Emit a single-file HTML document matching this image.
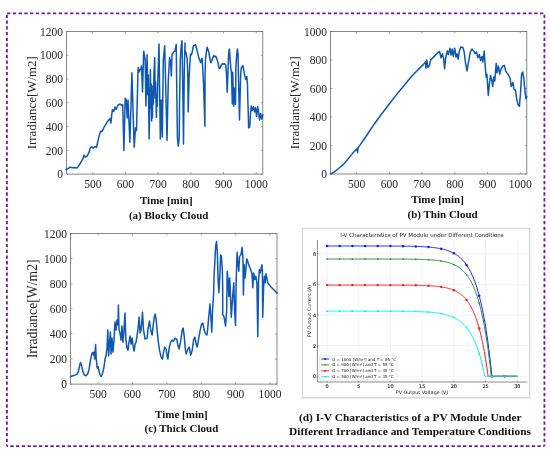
<!DOCTYPE html>
<html lang="en"><head><meta charset="utf-8"><title>Irradiance profiles and I-V characteristics</title>
<style>html,body{margin:0;padding:0;background:#fff}svg{display:block}</style></head>
<body>
<svg width="550" height="454" viewBox="0 0 550 454">
<rect x="0" y="0" width="550" height="454" fill="#ffffff"/>
<g fill="none" stroke="#7216a6" stroke-width="1.8" stroke-dasharray="3.3 2.43">
<path d="M6.9,13.4H544.4" stroke-dashoffset="5.51"/>
<path d="M6.9,446.2H544.4" stroke-dashoffset="2.28"/>
<path d="M6.9,13.4V446.2" stroke-dashoffset="4.41"/>
<path d="M544.4,13.4V446.2" stroke-dashoffset="4.41"/>
</g>
<g font-family="'Liberation Serif', serif" fill="#262626">
<rect x="66.60" y="31.50" width="196.20" height="142.60" fill="#fff" stroke="#6a6a6a" stroke-width="0.8"/>
<text x="92.76" y="188.20" font-size="11.5" text-anchor="middle">500</text>
<text x="125.46" y="188.20" font-size="11.5" text-anchor="middle">600</text>
<text x="158.16" y="188.20" font-size="11.5" text-anchor="middle">700</text>
<text x="190.86" y="188.20" font-size="11.5" text-anchor="middle">800</text>
<text x="223.56" y="188.20" font-size="11.5" text-anchor="middle">900</text>
<text x="256.26" y="188.20" font-size="11.5" text-anchor="middle">1000</text>
<text x="63.00" y="178.30" font-size="11.5" text-anchor="end">0</text>
<text x="63.00" y="154.53" font-size="11.5" text-anchor="end">200</text>
<text x="63.00" y="130.77" font-size="11.5" text-anchor="end">400</text>
<text x="63.00" y="107.00" font-size="11.5" text-anchor="end">600</text>
<text x="63.00" y="83.23" font-size="11.5" text-anchor="end">800</text>
<text x="63.00" y="59.47" font-size="11.5" text-anchor="end">1000</text>
<text x="63.00" y="35.70" font-size="11.5" text-anchor="end">1200</text>
<path d="M92.76,174.10v-2.0M92.76,31.50v2.0M125.46,174.10v-2.0M125.46,31.50v2.0M158.16,174.10v-2.0M158.16,31.50v2.0M190.86,174.10v-2.0M190.86,31.50v2.0M223.56,174.10v-2.0M223.56,31.50v2.0M256.26,174.10v-2.0M256.26,31.50v2.0M66.60,174.10h2.0M262.80,174.10h-2.0M66.60,150.33h2.0M262.80,150.33h-2.0M66.60,126.57h2.0M262.80,126.57h-2.0M66.60,102.80h2.0M262.80,102.80h-2.0M66.60,79.03h2.0M262.80,79.03h-2.0M66.60,55.27h2.0M262.80,55.27h-2.0M66.60,31.50h2.0M262.80,31.50h-2.0" stroke="#6a6a6a" stroke-width="0.6" fill="none"/>
<path d="M66.0,169.5 L68.0,168.7 L70.0,167.1 L72.0,167.7 L74.0,167.5 L77.0,168.1 L79.0,165.5 L81.0,162.1 L83.0,158.7 L84.0,155.1 L85.1,157.1 L87.1,156.1 L89.1,152.1 L90.5,147.5 L91.7,146.7 L93.1,148.1 L95.1,146.7 L96.5,147.5 L98.1,140.1 L99.7,134.1 L100.7,131.1 L102.1,131.5 L104.1,127.1 L107.1,122.1 L110.1,118.6 L110.9,123.1 L111.7,115.0 L112.5,109.4 L113.7,111.4 L115.1,107.0 L116.1,109.4 L118.1,105.0 L120.1,104.0 L121.7,105.4 L122.7,104.6 L123.9,150.5 L125.2,98.2 L126.2,100.0 L127.2,118.0 L128.0,100.0 L129.9,142.2 L131.9,72.7 L133.0,110.0 L134.2,147.2 L135.5,128.0 L136.5,130.6 L138.1,67.5 L139.1,72.0 L140.5,69.0 L141.5,66.0 L142.5,92.0 L143.7,51.2 L145.2,60.0 L145.9,106.0 L147.1,54.8 L147.8,95.0 L148.3,75.0 L149.1,138.9 L149.8,100.0 L150.4,69.4 L150.9,108.0 L151.2,84.0 L151.6,121.0 L152.0,96.0 L152.4,118.0 L152.9,86.0 L153.4,104.0 L153.9,74.0 L154.7,57.8 L155.2,98.0 L155.6,82.0 L156.4,117.4 L156.9,94.0 L157.3,106.0 L157.8,80.0 L159.0,43.9 L160.3,138.9 L161.3,100.0 L162.3,137.0 L163.3,60.0 L164.7,45.7 L165.8,90.0 L167.0,140.6 L168.3,80.0 L169.6,57.7 L170.6,62.0 L171.3,76.0 L172.0,55.0 L173.5,52.0 L175.0,51.0 L176.2,44.6 L176.9,100.0 L177.4,138.0 L178.3,146.0 L179.2,138.0 L179.6,100.0 L180.3,60.0 L181.0,48.0 L182.0,40.7 L182.8,90.0 L183.5,143.9 L184.3,70.0 L185.0,42.9 L185.0,50.4 L186.2,53.3 L187.2,59.1 L187.9,78.0 L188.2,111.9 L189.1,78.0 L189.7,66.4 L190.5,54.0 L191.5,54.7 L192.3,51.8 L193.4,46.0 L194.5,45.3 L195.5,44.5 L196.3,47.5 L197.4,51.8 L198.4,56.2 L199.5,59.8 L200.7,62.7 L201.4,59.1 L202.2,58.4 L202.7,67.8 L203.5,82.4 L204.9,126.2 L205.1,73.6 L205.5,59.1 L206.4,51.8 L207.1,47.2 L208.0,49.6 L209.0,53.3 L210.0,59.1 L210.9,62.7 L211.9,60.5 L212.9,57.6 L213.8,55.5 L214.8,56.9 L215.8,56.2 L217.0,59.1 L218.2,63.5 L219.2,68.5 L220.2,67.8 L221.4,64.9 L222.5,63.5 L223.5,64.2 L224.6,63.7 L225.7,64.9 L226.5,73.6 L227.2,92.3 L227.9,73.6 L228.6,54.7 L229.4,48.9 L230.1,59.1 L230.8,67.8 L231.5,73.6 L232.3,103.9 L232.7,72.2 L233.7,106.1 L234.5,88.2 L235.5,104.6 L235.9,66.4 L236.6,56.2 L237.4,48.9 L238.1,54.7 L238.5,78.0 L239.5,119.9 L240.3,88.2 L240.7,73.6 L241.3,67.8 L242.0,67.1 L242.9,65.6 L243.6,69.3 L244.6,75.1 L245.8,79.5 L246.8,76.5 L247.5,85.3 L247.8,99.5 L248.3,114.1 L248.6,127.9 L249.7,127.2 L250.5,114.1 L251.2,106.1 L252.2,110.5 L253.4,106.8 L254.5,111.9 L255.5,107.5 L256.6,116.3 L257.7,106.8 L258.5,111.2 L259.5,119.9 L260.6,113.4 L261.8,119.2 L262.8,114.8" fill="none" stroke="#0e58b2" stroke-width="1.5" stroke-linejoin="round" stroke-linecap="round"/>
<text transform="translate(35.50,102.80) rotate(-90)" font-size="12.9" text-anchor="middle">Irradiance[W/m2]</text>
<text x="166.30" y="203.80" font-size="11" font-weight="bold" text-anchor="middle" fill="#111">Time [min]</text>
<text x="168.70" y="218.80" font-size="11" font-weight="bold" text-anchor="middle" fill="#111">(a) Blocky Cloud</text>
</g>
<g font-family="'Liberation Serif', serif" fill="#262626">
<rect x="330.50" y="31.50" width="196.30" height="142.50" fill="#fff" stroke="#6a6a6a" stroke-width="0.8"/>
<text x="356.67" y="188.10" font-size="11.5" text-anchor="middle">500</text>
<text x="389.39" y="188.10" font-size="11.5" text-anchor="middle">600</text>
<text x="422.11" y="188.10" font-size="11.5" text-anchor="middle">700</text>
<text x="454.82" y="188.10" font-size="11.5" text-anchor="middle">800</text>
<text x="487.54" y="188.10" font-size="11.5" text-anchor="middle">900</text>
<text x="520.26" y="188.10" font-size="11.5" text-anchor="middle">1000</text>
<text x="326.90" y="178.20" font-size="11.5" text-anchor="end">0</text>
<text x="326.90" y="149.70" font-size="11.5" text-anchor="end">200</text>
<text x="326.90" y="121.20" font-size="11.5" text-anchor="end">400</text>
<text x="326.90" y="92.70" font-size="11.5" text-anchor="end">600</text>
<text x="326.90" y="64.20" font-size="11.5" text-anchor="end">800</text>
<text x="326.90" y="35.70" font-size="11.5" text-anchor="end">1000</text>
<path d="M356.67,174.00v-2.0M356.67,31.50v2.0M389.39,174.00v-2.0M389.39,31.50v2.0M422.11,174.00v-2.0M422.11,31.50v2.0M454.82,174.00v-2.0M454.82,31.50v2.0M487.54,174.00v-2.0M487.54,31.50v2.0M520.26,174.00v-2.0M520.26,31.50v2.0M330.50,174.00h2.0M526.80,174.00h-2.0M330.50,145.50h2.0M526.80,145.50h-2.0M330.50,117.00h2.0M526.80,117.00h-2.0M330.50,88.50h2.0M526.80,88.50h-2.0M330.50,60.00h2.0M526.80,60.00h-2.0M330.50,31.50h2.0M526.80,31.50h-2.0" stroke="#6a6a6a" stroke-width="0.6" fill="none"/>
<path d="M330.5,174.0 L332.0,173.3 L334.0,172.1 L336.0,170.6 L338.0,169.0 L340.0,167.3 L342.0,165.6 L344.0,163.7 L346.0,161.5 L348.0,159.1 L350.0,156.6 L352.0,154.1 L354.0,151.8 L355.5,150.2 L357.1,148.6 L357.6,152.7 L358.0,148.0 L360.5,144.4 L363.5,140.0 L364.3,139.0 L368.6,132.5 L374.5,123.7 L380.3,115.7 L389.2,104.0 L398.7,91.9 L412.3,75.5 L423.3,64.6 L425.4,61.9 L426.0,68.2 L426.8,60.0 L427.9,67.3 L429.3,66.0 L430.6,60.0 L434.2,56.4 L438.3,52.3 L439.6,51.5 L441.0,57.8 L442.4,53.7 L443.7,59.2 L444.6,68.7 L445.7,57.8 L447.3,51.0 L448.4,54.5 L450.0,48.2 L451.1,55.1 L452.2,49.0 L453.3,56.4 L454.7,48.2 L456.0,57.2 L457.1,53.7 L458.2,59.2 L459.3,51.0 L461.0,46.9 L462.9,47.4 L464.2,52.3 L465.6,63.3 L467.0,70.9 L468.3,63.3 L470.2,52.3 L471.9,49.0 L473.8,51.0 L475.2,53.7 L476.5,51.8 L477.9,57.8 L479.3,54.5 L480.6,60.5 L482.0,56.4 L482.8,61.9 L484.2,51.0 L485.0,63.3 L486.1,76.9 L486.9,74.2 L488.3,95.5 L489.4,83.7 L490.5,75.5 L491.6,79.6 L492.7,86.5 L493.7,76.9 L494.8,81.0 L496.2,63.3 L497.0,72.8 L498.4,66.0 L499.8,74.2 L501.1,68.7 L503.0,66.0 L504.4,65.4 L505.8,71.4 L508.0,74.2 L510.1,78.3 L511.2,86.5 L512.9,82.4 L514.0,89.2 L515.6,90.6 L516.7,98.8 L517.8,104.2 L519.4,106.4 L520.5,93.3 L521.6,74.2 L522.7,72.0 L523.8,78.3 L524.9,90.6 L526.0,98.8 L526.8,96.6" fill="none" stroke="#0e58b2" stroke-width="1.5" stroke-linejoin="round" stroke-linecap="round"/>
<text transform="translate(299.20,102.75) rotate(-90)" font-size="12.9" text-anchor="middle">Irradiance[W/m2]</text>
<text x="437.50" y="202.60" font-size="11" font-weight="bold" text-anchor="middle" fill="#111">Time [min]</text>
<text x="442.60" y="217.80" font-size="11" font-weight="bold" text-anchor="middle" fill="#111">(b) Thin Cloud</text>
</g>
<g font-family="'Liberation Serif', serif" fill="#262626">
<rect x="70.50" y="233.60" width="206.50" height="150.50" fill="#fff" stroke="#6a6a6a" stroke-width="0.8"/>
<text x="98.03" y="398.20" font-size="11.5" text-anchor="middle">500</text>
<text x="132.45" y="398.20" font-size="11.5" text-anchor="middle">600</text>
<text x="166.87" y="398.20" font-size="11.5" text-anchor="middle">700</text>
<text x="201.28" y="398.20" font-size="11.5" text-anchor="middle">800</text>
<text x="235.70" y="398.20" font-size="11.5" text-anchor="middle">900</text>
<text x="270.12" y="398.20" font-size="11.5" text-anchor="middle">1000</text>
<text x="66.90" y="388.30" font-size="11.5" text-anchor="end">0</text>
<text x="66.90" y="363.22" font-size="11.5" text-anchor="end">200</text>
<text x="66.90" y="338.13" font-size="11.5" text-anchor="end">400</text>
<text x="66.90" y="313.05" font-size="11.5" text-anchor="end">600</text>
<text x="66.90" y="287.97" font-size="11.5" text-anchor="end">800</text>
<text x="66.90" y="262.88" font-size="11.5" text-anchor="end">1000</text>
<text x="66.90" y="237.80" font-size="11.5" text-anchor="end">1200</text>
<path d="M98.03,384.10v-2.0M98.03,233.60v2.0M132.45,384.10v-2.0M132.45,233.60v2.0M166.87,384.10v-2.0M166.87,233.60v2.0M201.28,384.10v-2.0M201.28,233.60v2.0M235.70,384.10v-2.0M235.70,233.60v2.0M270.12,384.10v-2.0M270.12,233.60v2.0M70.50,384.10h2.0M277.00,384.10h-2.0M70.50,359.02h2.0M277.00,359.02h-2.0M70.50,333.93h2.0M277.00,333.93h-2.0M70.50,308.85h2.0M277.00,308.85h-2.0M70.50,283.77h2.0M277.00,283.77h-2.0M70.50,258.68h2.0M277.00,258.68h-2.0M70.50,233.60h2.0M277.00,233.60h-2.0" stroke="#6a6a6a" stroke-width="0.6" fill="none"/>
<path d="M70.5,376.5 L73.1,375.7 L75.1,375.1 L77.1,374.1 L78.5,371.1 L79.7,365.1 L80.5,362.5 L81.7,366.1 L83.1,372.1 L84.5,375.1 L86.1,375.7 L87.7,373.7 L89.1,369.1 L90.5,360.1 L91.7,354.1 L92.7,352.5 L93.5,355.1 L94.1,352.1 L94.7,359.1 L95.6,344.5 L96.2,358.1 L97.2,368.1 L98.2,366.7 L99.2,372.1 L100.2,375.1 L101.2,376.5 L102.2,374.5 L103.8,368.1 L105.2,358.1 L106.0,356.1 L107.0,348.1 L107.8,330.1 L108.6,356.1 L109.4,344.1 L110.4,332.1 L111.0,354.1 L112.0,338.1 L113.0,352.1 L114.0,340.1 L115.0,322.1 L116.0,330.1 L117.0,320.1 L118.0,325.1 L118.4,305.0 L119.0,330.1 L120.0,333.1 L121.0,340.1 L122.0,326.1 L123.0,342.1 L124.0,330.1 L125.0,313.0 L125.8,338.1 L127.0,348.1 L128.0,350.1 L129.0,342.1 L130.1,336.1 L131.1,344.1 L132.1,338.1 L133.1,346.1 L134.1,351.1 L135.1,344.1 L136.1,342.1 L137.1,335.1 L138.1,328.1 L139.1,317.1 L140.1,333.1 L141.1,330.1 L142.5,312.0 L143.5,330.1 L145.1,339.1 L147.1,338.1 L148.1,328.1 L149.5,321.1 L150.7,330.1 L152.1,335.1 L153.1,326.1 L154.1,318.1 L155.1,314.0 L156.1,319.1 L157.1,330.1 L158.1,340.1 L159.5,350.1 L161.1,357.1 L162.5,359.1 L163.5,352.1 L164.7,347.1 L166.1,349.1 L167.1,356.1 L167.9,359.1 L169.1,348.1 L170.7,342.1 L172.1,340.1 L173.5,341.1 L175.1,338.1 L176.7,339.1 L178.1,346.1 L179.1,349.1 L180.8,340.1 L182.2,330.1 L183.2,328.1 L184.2,336.1 L185.2,348.1 L186.2,354.1 L187.6,350.1 L189.2,347.1 L190.8,355.1 L192.2,350.1 L193.6,340.1 L194.8,337.1 L196.2,344.1 L197.2,347.1 L198.8,338.1 L200.2,330.1 L201.6,324.1 L202.8,323.1 L204.2,330.1 L205.2,333.1 L206.8,335.1 L207.6,330.1 L208.8,316.1 L210.0,304.0 L210.8,316.1 L211.8,332.1 L212.6,310.0 L213.6,294.0 L214.0,276.2 L214.8,263.0 L215.6,246.5 L216.5,241.6 L217.3,251.5 L218.1,279.5 L218.9,292.8 L219.8,276.2 L220.6,254.8 L221.4,256.4 L222.3,269.6 L222.7,287.8 L222.7,314.8 L223.9,316.4 L225.6,326.0 L226.7,309.8 L227.2,271.3 L228.0,279.5 L228.9,296.6 L229.7,277.9 L230.5,296.1 L231.3,317.3 L232.7,296.1 L233.8,282.8 L234.6,309.8 L235.5,325.5 L236.3,276.2 L237.1,252.3 L237.9,263.0 L238.8,271.3 L239.6,256.4 L240.9,254.8 L242.1,247.3 L242.9,256.4 L243.4,295.0 L244.2,264.7 L245.0,277.9 L245.9,269.6 L246.7,258.9 L247.5,260.6 L248.7,264.7 L250.3,268.8 L252.0,273.8 L252.8,287.8 L253.6,272.9 L254.8,279.5 L255.8,276.2 L256.9,282.8 L257.8,336.7 L258.6,279.5 L259.4,269.6 L260.2,272.9 L261.1,268.8 L261.9,264.7 L262.4,271.3 L262.7,317.3 L263.7,284.5 L264.4,276.2 L265.2,282.8 L266.0,273.8 L266.8,277.9 L267.7,282.8 L271.0,287.0 L274.3,290.3 L277.1,293.1" fill="none" stroke="#0e58b2" stroke-width="1.5" stroke-linejoin="round" stroke-linecap="round"/>
<text transform="translate(37.30,308.85) rotate(-90)" font-size="13.7" text-anchor="middle">Irradiance[W/m2]</text>
<text x="181.40" y="417.60" font-size="11" font-weight="bold" text-anchor="middle" fill="#111">Time [min]</text>
<text x="181.40" y="432.00" font-size="11" font-weight="bold" text-anchor="middle" fill="#111">(c) Thick Cloud</text>
</g>
<g font-family="'DejaVu Sans', 'Liberation Sans', sans-serif" fill="#222">
<rect x="302.7" y="228.8" width="227" height="169" fill="#fff" stroke="#efefef" stroke-width="2.4"/>
<rect x="302.5" y="228.6" width="227" height="169" fill="#fff" stroke="#d0d0d0" stroke-width="0.9"/>
<path d="M327.05,240V381.8M358.75,240V381.8M390.45,240V381.8M422.15,240V381.8M453.85,240V381.8M485.55,240V381.8M517.25,240V381.8M317.4,376.30H527.3M317.4,345.64H527.3M317.4,314.98H527.3M317.4,284.32H527.3M317.4,253.66H527.3" stroke="#e6e6e6" stroke-width="0.5" fill="none"/>
<path d="M317.4,240V382M317.4,382H527.3" stroke="#666" stroke-width="0.75" fill="none"/>
<text x="327.05" y="388.0" font-size="4.9" text-anchor="middle" stroke="#222" stroke-width="0.12">0</text>
<text x="358.75" y="388.0" font-size="4.9" text-anchor="middle" stroke="#222" stroke-width="0.12">5</text>
<text x="390.45" y="388.0" font-size="4.9" text-anchor="middle" stroke="#222" stroke-width="0.12">10</text>
<text x="422.15" y="388.0" font-size="4.9" text-anchor="middle" stroke="#222" stroke-width="0.12">15</text>
<text x="453.85" y="388.0" font-size="4.9" text-anchor="middle" stroke="#222" stroke-width="0.12">20</text>
<text x="485.55" y="388.0" font-size="4.9" text-anchor="middle" stroke="#222" stroke-width="0.12">25</text>
<text x="517.25" y="388.0" font-size="4.9" text-anchor="middle" stroke="#222" stroke-width="0.12">30</text>
<text x="316.0" y="378.20" font-size="4.9" text-anchor="end" stroke="#222" stroke-width="0.12">0</text>
<text x="316.0" y="347.54" font-size="4.9" text-anchor="end" stroke="#222" stroke-width="0.12">2</text>
<text x="316.0" y="316.88" font-size="4.9" text-anchor="end" stroke="#222" stroke-width="0.12">4</text>
<text x="316.0" y="286.22" font-size="4.9" text-anchor="end" stroke="#222" stroke-width="0.12">6</text>
<text x="316.0" y="255.56" font-size="4.9" text-anchor="end" stroke="#222" stroke-width="0.12">8</text>
<path d="M327.05,382v-1.2M358.75,382v-1.2M390.45,382v-1.2M422.15,382v-1.2M453.85,382v-1.2M485.55,382v-1.2M517.25,382v-1.2M317.4,376.30h1.2M317.4,345.64h1.2M317.4,314.98h1.2M317.4,284.32h1.2M317.4,253.66h1.2" stroke="#555" stroke-width="0.5" fill="none"/>
<text x="422.0" y="237.0" font-size="5.55" text-anchor="middle" fill="#222">I-V Characteristics of PV Module under Different Conditions</text>
<text x="422" y="393.6" font-size="4.8" text-anchor="middle" fill="#222">PV Output Voltage (V)</text>
<text transform="translate(310.6,311) rotate(-90)" font-size="4.8" text-anchor="middle" fill="#222">PV Output Current (A)</text>
<path d="M327.1,246.0 L327.7,246.0 L328.3,246.0 L329.0,246.0 L329.6,246.0 L330.2,246.0 L330.9,246.0 L331.5,246.0 L332.1,246.0 L332.8,246.0 L333.4,246.0 L334.0,246.0 L334.7,246.0 L335.3,246.0 L335.9,246.0 L336.6,246.0 L337.2,246.0 L337.8,246.0 L338.5,246.0 L339.1,246.0 L339.7,246.0 L340.4,246.0 L341.0,246.0 L341.6,246.0 L342.3,246.0 L342.9,246.0 L343.5,246.0 L344.2,246.0 L344.8,246.0 L345.4,246.0 L346.1,246.0 L346.7,246.0 L347.3,246.0 L348.0,246.0 L348.6,246.0 L349.2,246.0 L349.9,246.0 L350.5,246.0 L351.1,246.0 L351.8,246.0 L352.4,246.0 L353.0,246.0 L353.7,246.0 L354.3,246.0 L354.9,246.0 L355.6,246.0 L356.2,246.0 L356.8,246.0 L357.5,246.0 L358.1,246.0 L358.8,246.0 L359.4,246.0 L360.0,246.0 L360.7,246.0 L361.3,246.0 L361.9,246.0 L362.6,246.0 L363.2,246.0 L363.8,246.0 L364.5,246.0 L365.1,246.0 L365.7,246.0 L366.4,246.0 L367.0,246.0 L367.6,246.0 L368.3,246.0 L368.9,246.0 L369.5,246.0 L370.2,246.0 L370.8,246.0 L371.4,246.0 L372.1,246.0 L372.7,246.0 L373.3,246.0 L374.0,246.0 L374.6,246.0 L375.2,246.0 L375.9,246.0 L376.5,246.0 L377.1,246.0 L377.8,246.0 L378.4,246.0 L379.0,246.0 L379.7,246.0 L380.3,246.0 L380.9,246.0 L381.6,246.0 L382.2,246.0 L382.8,246.0 L383.5,246.0 L384.1,246.0 L384.7,246.0 L385.4,246.0 L386.0,246.0 L386.6,246.0 L387.3,246.0 L387.9,246.0 L388.5,246.0 L389.2,246.0 L389.8,246.1 L390.4,246.1 L391.1,246.1 L391.7,246.1 L392.4,246.1 L393.0,246.1 L393.6,246.1 L394.3,246.1 L394.9,246.1 L395.5,246.1 L396.2,246.1 L396.8,246.1 L397.4,246.1 L398.1,246.1 L398.7,246.1 L399.3,246.1 L400.0,246.1 L400.6,246.1 L401.2,246.1 L401.9,246.1 L402.5,246.1 L403.1,246.1 L403.8,246.2 L404.4,246.2 L405.0,246.2 L405.7,246.2 L406.3,246.2 L406.9,246.2 L407.6,246.2 L408.2,246.2 L408.8,246.2 L409.5,246.2 L410.1,246.3 L410.7,246.3 L411.4,246.3 L412.0,246.3 L412.6,246.3 L413.3,246.3 L413.9,246.3 L414.5,246.4 L415.2,246.4 L415.8,246.4 L416.4,246.4 L417.1,246.4 L417.7,246.5 L418.3,246.5 L419.0,246.5 L419.6,246.5 L420.2,246.6 L420.9,246.6 L421.5,246.6 L422.1,246.6 L422.8,246.7 L423.4,246.7 L424.1,246.7 L424.7,246.8 L425.3,246.8 L426.0,246.9 L426.6,246.9 L427.2,247.0 L427.9,247.0 L428.5,247.0 L429.1,247.1 L429.8,247.2 L430.4,247.2 L431.0,247.3 L431.7,247.3 L432.3,247.4 L432.9,247.5 L433.6,247.5 L434.2,247.6 L434.8,247.7 L435.5,247.8 L436.1,247.9 L436.7,248.0 L437.4,248.1 L438.0,248.2 L438.6,248.3 L439.3,248.4 L439.9,248.5 L440.5,248.6 L441.2,248.8 L441.8,248.9 L442.4,249.0 L443.1,249.2 L443.7,249.3 L444.3,249.5 L445.0,249.7 L445.6,249.9 L446.2,250.1 L446.9,250.3 L447.5,250.5 L448.1,250.7 L448.8,250.9 L449.4,251.2 L450.0,251.4 L450.7,251.7 L451.3,252.0 L451.9,252.3 L452.6,252.6 L453.2,252.9 L453.9,253.2 L454.5,253.6 L455.1,254.0 L455.8,254.4 L456.4,254.8 L457.0,255.2 L457.7,255.7 L458.3,256.1 L458.9,256.6 L459.6,257.2 L460.2,257.7 L460.8,258.3 L461.5,258.9 L462.1,259.5 L462.7,260.2 L463.4,260.9 L464.0,261.6 L464.6,262.4 L465.3,263.2 L465.9,264.1 L466.5,265.0 L467.2,265.9 L467.8,266.9 L468.4,267.9 L469.1,269.0 L469.7,270.1 L470.3,271.3 L471.0,272.6 L471.6,273.9 L472.2,275.3 L472.9,276.7 L473.5,278.2 L474.1,279.8 L474.8,281.5 L475.4,283.2 L476.0,285.1 L476.7,287.0 L477.3,289.0 L477.9,291.2 L478.6,293.4 L479.2,295.7 L479.8,298.2 L480.5,300.7 L481.1,303.4 L481.7,306.3 L482.4,309.3 L483.0,312.4 L483.6,315.7 L484.3,319.1 L484.9,322.7 L485.6,326.5 L486.2,330.5 L486.8,334.6 L487.5,339.0 L488.1,343.6 L488.7,348.4 L489.4,353.5 L490.0,358.8 L490.6,364.3 L491.3,370.2 L491.9,376.3 L492.5,376.3 L493.2,376.3 L493.8,376.3 L494.4,376.3 L495.1,376.3 L495.7,376.3 L496.3,376.3 L497.0,376.3 L497.6,376.3 L498.2,376.3 L498.9,376.3 L499.5,376.3 L500.1,376.3 L500.8,376.3 L501.4,376.3 L502.0,376.3 L502.7,376.3 L503.3,376.3 L503.9,376.3 L504.6,376.3 L505.2,376.3 L505.8,376.3 L506.5,376.3 L507.1,376.3 L507.7,376.3 L508.4,376.3 L509.0,376.3 L509.6,376.3 L510.3,376.3 L510.9,376.3 L511.5,376.3 L512.2,376.3 L512.8,376.3 L513.4,376.3 L514.1,376.3 L514.7,376.3 L515.3,376.3 L516.0,376.3 L516.6,376.3 L517.3,376.3" fill="none" stroke="#1a1aff" stroke-width="1.0" stroke-linejoin="round"/>
<circle cx="327.05" cy="246.00" r="1.25" fill="#1a1aff"/>
<circle cx="339.73" cy="246.00" r="1.25" fill="#1a1aff"/>
<circle cx="352.41" cy="246.00" r="1.25" fill="#1a1aff"/>
<circle cx="365.09" cy="246.00" r="1.25" fill="#1a1aff"/>
<circle cx="377.77" cy="246.02" r="1.25" fill="#1a1aff"/>
<circle cx="390.45" cy="246.05" r="1.25" fill="#1a1aff"/>
<circle cx="403.13" cy="246.15" r="1.25" fill="#1a1aff"/>
<circle cx="415.81" cy="246.40" r="1.25" fill="#1a1aff"/>
<circle cx="428.49" cy="247.05" r="1.25" fill="#1a1aff"/>
<circle cx="441.17" cy="248.76" r="1.25" fill="#1a1aff"/>
<circle cx="453.85" cy="253.24" r="1.25" fill="#1a1aff"/>
<circle cx="466.53" cy="264.97" r="1.25" fill="#1a1aff"/>
<circle cx="479.21" cy="295.72" r="1.25" fill="#1a1aff"/>
<circle cx="491.89" cy="376.30" r="1.25" fill="#1a1aff"/>
<circle cx="504.57" cy="376.30" r="1.25" fill="#1a1aff"/>
<path d="M327.1,259.0 L327.7,259.0 L328.3,259.0 L329.0,259.0 L329.6,259.0 L330.2,259.0 L330.9,259.0 L331.5,259.0 L332.1,259.0 L332.8,259.0 L333.4,259.0 L334.0,259.0 L334.7,259.0 L335.3,259.0 L335.9,259.0 L336.6,259.0 L337.2,259.0 L337.8,259.0 L338.5,259.0 L339.1,259.0 L339.7,259.0 L340.4,259.0 L341.0,259.0 L341.6,259.0 L342.3,259.0 L342.9,259.0 L343.5,259.0 L344.2,259.0 L344.8,259.0 L345.4,259.0 L346.1,259.0 L346.7,259.0 L347.3,259.0 L348.0,259.0 L348.6,259.0 L349.2,259.0 L349.9,259.0 L350.5,259.0 L351.1,259.0 L351.8,259.0 L352.4,259.0 L353.0,259.0 L353.7,259.0 L354.3,259.0 L354.9,259.0 L355.6,259.0 L356.2,259.0 L356.8,259.0 L357.5,259.0 L358.1,259.0 L358.8,259.0 L359.4,259.0 L360.0,259.0 L360.7,259.0 L361.3,259.0 L361.9,259.0 L362.6,259.0 L363.2,259.0 L363.8,259.0 L364.5,259.0 L365.1,259.0 L365.7,259.0 L366.4,259.0 L367.0,259.0 L367.6,259.0 L368.3,259.0 L368.9,259.0 L369.5,259.0 L370.2,259.0 L370.8,259.0 L371.4,259.0 L372.1,259.0 L372.7,259.0 L373.3,259.0 L374.0,259.0 L374.6,259.0 L375.2,259.0 L375.9,259.0 L376.5,259.0 L377.1,259.0 L377.8,259.0 L378.4,259.0 L379.0,259.0 L379.7,259.0 L380.3,259.0 L380.9,259.0 L381.6,259.0 L382.2,259.0 L382.8,259.0 L383.5,259.0 L384.1,259.0 L384.7,259.0 L385.4,259.0 L386.0,259.0 L386.6,259.0 L387.3,259.1 L387.9,259.1 L388.5,259.1 L389.2,259.1 L389.8,259.1 L390.4,259.1 L391.1,259.1 L391.7,259.1 L392.4,259.1 L393.0,259.1 L393.6,259.1 L394.3,259.1 L394.9,259.1 L395.5,259.1 L396.2,259.1 L396.8,259.1 L397.4,259.1 L398.1,259.1 L398.7,259.1 L399.3,259.1 L400.0,259.1 L400.6,259.1 L401.2,259.1 L401.9,259.1 L402.5,259.1 L403.1,259.1 L403.8,259.1 L404.4,259.1 L405.0,259.1 L405.7,259.1 L406.3,259.1 L406.9,259.1 L407.6,259.2 L408.2,259.2 L408.8,259.2 L409.5,259.2 L410.1,259.2 L410.7,259.2 L411.4,259.2 L412.0,259.2 L412.6,259.2 L413.3,259.2 L413.9,259.2 L414.5,259.3 L415.2,259.3 L415.8,259.3 L416.4,259.3 L417.1,259.3 L417.7,259.3 L418.3,259.3 L419.0,259.4 L419.6,259.4 L420.2,259.4 L420.9,259.4 L421.5,259.4 L422.1,259.5 L422.8,259.5 L423.4,259.5 L424.1,259.5 L424.7,259.5 L425.3,259.6 L426.0,259.6 L426.6,259.6 L427.2,259.7 L427.9,259.7 L428.5,259.7 L429.1,259.8 L429.8,259.8 L430.4,259.9 L431.0,259.9 L431.7,259.9 L432.3,260.0 L432.9,260.0 L433.6,260.1 L434.2,260.2 L434.8,260.2 L435.5,260.3 L436.1,260.3 L436.7,260.4 L437.4,260.5 L438.0,260.6 L438.6,260.7 L439.3,260.7 L439.9,260.8 L440.5,260.9 L441.2,261.0 L441.8,261.1 L442.4,261.2 L443.1,261.4 L443.7,261.5 L444.3,261.6 L445.0,261.7 L445.6,261.9 L446.2,262.0 L446.9,262.2 L447.5,262.4 L448.1,262.5 L448.8,262.7 L449.4,262.9 L450.0,263.1 L450.7,263.4 L451.3,263.6 L451.9,263.8 L452.6,264.1 L453.2,264.3 L453.9,264.6 L454.5,264.9 L455.1,265.2 L455.8,265.6 L456.4,265.9 L457.0,266.3 L457.7,266.7 L458.3,267.1 L458.9,267.5 L459.6,267.9 L460.2,268.4 L460.8,268.9 L461.5,269.4 L462.1,270.0 L462.7,270.6 L463.4,271.2 L464.0,271.8 L464.6,272.5 L465.3,273.2 L465.9,273.9 L466.5,274.7 L467.2,275.6 L467.8,276.4 L468.4,277.4 L469.1,278.3 L469.7,279.4 L470.3,280.4 L471.0,281.6 L471.6,282.8 L472.2,284.0 L472.9,285.3 L473.5,286.7 L474.1,288.2 L474.8,289.7 L475.4,291.4 L476.0,293.1 L476.7,294.9 L477.3,296.8 L477.9,298.8 L478.6,300.9 L479.2,303.1 L479.8,305.4 L480.5,307.8 L481.1,310.4 L481.7,313.2 L482.4,316.0 L483.0,319.0 L483.6,322.2 L484.3,325.5 L484.9,329.1 L485.6,332.8 L486.2,336.7 L486.8,340.8 L487.5,345.1 L488.1,349.7 L488.7,354.4 L489.4,359.5 L490.0,364.8 L490.6,370.4 L491.3,376.3 L491.9,376.3 L492.5,376.3 L493.2,376.3 L493.8,376.3 L494.4,376.3 L495.1,376.3 L495.7,376.3 L496.3,376.3 L497.0,376.3 L497.6,376.3 L498.2,376.3 L498.9,376.3 L499.5,376.3 L500.1,376.3 L500.8,376.3 L501.4,376.3 L502.0,376.3 L502.7,376.3 L503.3,376.3 L503.9,376.3 L504.6,376.3 L505.2,376.3 L505.8,376.3 L506.5,376.3 L507.1,376.3 L507.7,376.3 L508.4,376.3 L509.0,376.3 L509.6,376.3 L510.3,376.3 L510.9,376.3 L511.5,376.3 L512.2,376.3 L512.8,376.3 L513.4,376.3 L514.1,376.3 L514.7,376.3 L515.3,376.3 L516.0,376.3 L516.6,376.3 L517.3,376.3" fill="none" stroke="#1f8f2f" stroke-width="1.0" stroke-linejoin="round"/>
<circle cx="327.05" cy="259.03" r="0.85" fill="#1f8f2f"/>
<circle cx="339.73" cy="259.03" r="0.85" fill="#1f8f2f"/>
<circle cx="352.41" cy="259.03" r="0.85" fill="#1f8f2f"/>
<circle cx="365.09" cy="259.03" r="0.85" fill="#1f8f2f"/>
<circle cx="377.77" cy="259.04" r="0.85" fill="#1f8f2f"/>
<circle cx="390.45" cy="259.06" r="0.85" fill="#1f8f2f"/>
<circle cx="403.13" cy="259.12" r="0.85" fill="#1f8f2f"/>
<circle cx="415.81" cy="259.28" r="0.85" fill="#1f8f2f"/>
<circle cx="428.49" cy="259.74" r="0.85" fill="#1f8f2f"/>
<circle cx="441.17" cy="261.02" r="0.85" fill="#1f8f2f"/>
<circle cx="453.85" cy="264.63" r="0.85" fill="#1f8f2f"/>
<circle cx="466.53" cy="274.73" r="0.85" fill="#1f8f2f"/>
<circle cx="479.21" cy="303.07" r="0.85" fill="#1f8f2f"/>
<circle cx="491.89" cy="376.30" r="0.85" fill="#1f8f2f"/>
<circle cx="504.57" cy="376.30" r="0.85" fill="#1f8f2f"/>
<path d="M327.1,285.1 L327.7,285.1 L328.3,285.1 L329.0,285.1 L329.6,285.1 L330.2,285.1 L330.9,285.1 L331.5,285.1 L332.1,285.1 L332.8,285.1 L333.4,285.1 L334.0,285.1 L334.7,285.1 L335.3,285.1 L335.9,285.1 L336.6,285.1 L337.2,285.1 L337.8,285.1 L338.5,285.1 L339.1,285.1 L339.7,285.1 L340.4,285.1 L341.0,285.1 L341.6,285.1 L342.3,285.1 L342.9,285.1 L343.5,285.1 L344.2,285.1 L344.8,285.1 L345.4,285.1 L346.1,285.1 L346.7,285.1 L347.3,285.1 L348.0,285.1 L348.6,285.1 L349.2,285.1 L349.9,285.1 L350.5,285.1 L351.1,285.1 L351.8,285.1 L352.4,285.1 L353.0,285.1 L353.7,285.1 L354.3,285.1 L354.9,285.1 L355.6,285.1 L356.2,285.1 L356.8,285.1 L357.5,285.1 L358.1,285.1 L358.8,285.1 L359.4,285.1 L360.0,285.1 L360.7,285.1 L361.3,285.1 L361.9,285.1 L362.6,285.1 L363.2,285.1 L363.8,285.1 L364.5,285.1 L365.1,285.1 L365.7,285.1 L366.4,285.1 L367.0,285.1 L367.6,285.1 L368.3,285.1 L368.9,285.1 L369.5,285.1 L370.2,285.1 L370.8,285.1 L371.4,285.1 L372.1,285.1 L372.7,285.1 L373.3,285.1 L374.0,285.1 L374.6,285.1 L375.2,285.1 L375.9,285.1 L376.5,285.1 L377.1,285.1 L377.8,285.1 L378.4,285.1 L379.0,285.1 L379.7,285.1 L380.3,285.1 L380.9,285.1 L381.6,285.1 L382.2,285.1 L382.8,285.1 L383.5,285.1 L384.1,285.1 L384.7,285.1 L385.4,285.1 L386.0,285.1 L386.6,285.1 L387.3,285.1 L387.9,285.1 L388.5,285.1 L389.2,285.1 L389.8,285.1 L390.4,285.1 L391.1,285.1 L391.7,285.1 L392.4,285.1 L393.0,285.1 L393.6,285.1 L394.3,285.1 L394.9,285.1 L395.5,285.1 L396.2,285.1 L396.8,285.1 L397.4,285.1 L398.1,285.1 L398.7,285.1 L399.3,285.1 L400.0,285.1 L400.6,285.1 L401.2,285.1 L401.9,285.2 L402.5,285.2 L403.1,285.2 L403.8,285.2 L404.4,285.2 L405.0,285.2 L405.7,285.2 L406.3,285.2 L406.9,285.2 L407.6,285.2 L408.2,285.2 L408.8,285.2 L409.5,285.2 L410.1,285.2 L410.7,285.2 L411.4,285.2 L412.0,285.2 L412.6,285.2 L413.3,285.3 L413.9,285.3 L414.5,285.3 L415.2,285.3 L415.8,285.3 L416.4,285.3 L417.1,285.3 L417.7,285.3 L418.3,285.3 L419.0,285.4 L419.6,285.4 L420.2,285.4 L420.9,285.4 L421.5,285.4 L422.1,285.4 L422.8,285.5 L423.4,285.5 L424.1,285.5 L424.7,285.5 L425.3,285.6 L426.0,285.6 L426.6,285.6 L427.2,285.6 L427.9,285.7 L428.5,285.7 L429.1,285.7 L429.8,285.8 L430.4,285.8 L431.0,285.8 L431.7,285.9 L432.3,285.9 L432.9,286.0 L433.6,286.0 L434.2,286.1 L434.8,286.1 L435.5,286.2 L436.1,286.3 L436.7,286.3 L437.4,286.4 L438.0,286.5 L438.6,286.5 L439.3,286.6 L439.9,286.7 L440.5,286.8 L441.2,286.9 L441.8,287.0 L442.4,287.1 L443.1,287.2 L443.7,287.3 L444.3,287.4 L445.0,287.5 L445.6,287.7 L446.2,287.8 L446.9,288.0 L447.5,288.1 L448.1,288.3 L448.8,288.5 L449.4,288.6 L450.0,288.8 L450.7,289.0 L451.3,289.3 L451.9,289.5 L452.6,289.7 L453.2,290.0 L453.9,290.2 L454.5,290.5 L455.1,290.8 L455.8,291.1 L456.4,291.5 L457.0,291.8 L457.7,292.2 L458.3,292.6 L458.9,293.0 L459.6,293.4 L460.2,293.9 L460.8,294.3 L461.5,294.9 L462.1,295.4 L462.7,296.0 L463.4,296.5 L464.0,297.2 L464.6,297.8 L465.3,298.5 L465.9,299.3 L466.5,300.0 L467.2,300.9 L467.8,301.7 L468.4,302.6 L469.1,303.6 L469.7,304.6 L470.3,305.7 L471.0,306.8 L471.6,308.0 L472.2,309.2 L472.9,310.5 L473.5,311.9 L474.1,313.4 L474.8,314.9 L475.4,316.6 L476.0,318.3 L476.7,320.1 L477.3,322.0 L477.9,324.0 L478.6,326.2 L479.2,328.4 L479.8,330.8 L480.5,333.3 L481.1,335.9 L481.7,338.7 L482.4,341.6 L483.0,344.7 L483.6,347.9 L484.3,351.4 L484.9,355.0 L485.6,358.8 L486.2,362.8 L486.8,367.1 L487.5,371.6 L488.1,376.3 L488.7,376.3 L489.4,376.3 L490.0,376.3 L490.6,376.3 L491.3,376.3 L491.9,376.3 L492.5,376.3 L493.2,376.3 L493.8,376.3 L494.4,376.3 L495.1,376.3 L495.7,376.3 L496.3,376.3 L497.0,376.3 L497.6,376.3 L498.2,376.3 L498.9,376.3 L499.5,376.3 L500.1,376.3 L500.8,376.3 L501.4,376.3 L502.0,376.3 L502.7,376.3 L503.3,376.3 L503.9,376.3 L504.6,376.3 L505.2,376.3 L505.8,376.3 L506.5,376.3 L507.1,376.3 L507.7,376.3 L508.4,376.3 L509.0,376.3 L509.6,376.3 L510.3,376.3 L510.9,376.3 L511.5,376.3 L512.2,376.3 L512.8,376.3 L513.4,376.3 L514.1,376.3 L514.7,376.3 L515.3,376.3 L516.0,376.3 L516.6,376.3 L517.3,376.3" fill="none" stroke="#ff1a1a" stroke-width="1.0" stroke-linejoin="round"/>
<circle cx="327.05" cy="285.09" r="1.2" fill="#ff1a1a"/>
<circle cx="339.73" cy="285.09" r="1.2" fill="#ff1a1a"/>
<circle cx="352.41" cy="285.09" r="1.2" fill="#ff1a1a"/>
<circle cx="365.09" cy="285.09" r="1.2" fill="#ff1a1a"/>
<circle cx="377.77" cy="285.10" r="1.2" fill="#ff1a1a"/>
<circle cx="390.45" cy="285.11" r="1.2" fill="#ff1a1a"/>
<circle cx="403.13" cy="285.16" r="1.2" fill="#ff1a1a"/>
<circle cx="415.81" cy="285.30" r="1.2" fill="#ff1a1a"/>
<circle cx="428.49" cy="285.70" r="1.2" fill="#ff1a1a"/>
<circle cx="441.17" cy="286.87" r="1.2" fill="#ff1a1a"/>
<circle cx="453.85" cy="290.25" r="1.2" fill="#ff1a1a"/>
<circle cx="466.53" cy="300.04" r="1.2" fill="#ff1a1a"/>
<circle cx="479.21" cy="328.40" r="1.2" fill="#ff1a1a"/>
<circle cx="491.89" cy="376.30" r="1.2" fill="#ff1a1a"/>
<circle cx="504.57" cy="376.30" r="1.2" fill="#ff1a1a"/>
<path d="M327.1,311.1 L327.7,311.1 L328.3,311.1 L329.0,311.1 L329.6,311.1 L330.2,311.1 L330.9,311.1 L331.5,311.1 L332.1,311.1 L332.8,311.1 L333.4,311.1 L334.0,311.1 L334.7,311.1 L335.3,311.1 L335.9,311.1 L336.6,311.1 L337.2,311.1 L337.8,311.1 L338.5,311.1 L339.1,311.1 L339.7,311.1 L340.4,311.1 L341.0,311.1 L341.6,311.1 L342.3,311.1 L342.9,311.1 L343.5,311.1 L344.2,311.1 L344.8,311.1 L345.4,311.1 L346.1,311.1 L346.7,311.1 L347.3,311.1 L348.0,311.1 L348.6,311.1 L349.2,311.1 L349.9,311.2 L350.5,311.2 L351.1,311.2 L351.8,311.2 L352.4,311.2 L353.0,311.2 L353.7,311.2 L354.3,311.2 L354.9,311.2 L355.6,311.2 L356.2,311.2 L356.8,311.2 L357.5,311.2 L358.1,311.2 L358.8,311.2 L359.4,311.2 L360.0,311.2 L360.7,311.2 L361.3,311.2 L361.9,311.2 L362.6,311.2 L363.2,311.2 L363.8,311.2 L364.5,311.2 L365.1,311.2 L365.7,311.2 L366.4,311.2 L367.0,311.2 L367.6,311.2 L368.3,311.2 L368.9,311.2 L369.5,311.2 L370.2,311.2 L370.8,311.2 L371.4,311.2 L372.1,311.2 L372.7,311.2 L373.3,311.2 L374.0,311.2 L374.6,311.2 L375.2,311.2 L375.9,311.2 L376.5,311.2 L377.1,311.2 L377.8,311.2 L378.4,311.2 L379.0,311.2 L379.7,311.2 L380.3,311.2 L380.9,311.2 L381.6,311.2 L382.2,311.2 L382.8,311.2 L383.5,311.2 L384.1,311.2 L384.7,311.2 L385.4,311.2 L386.0,311.2 L386.6,311.2 L387.3,311.2 L387.9,311.2 L388.5,311.2 L389.2,311.2 L389.8,311.2 L390.4,311.2 L391.1,311.2 L391.7,311.2 L392.4,311.2 L393.0,311.2 L393.6,311.2 L394.3,311.2 L394.9,311.2 L395.5,311.2 L396.2,311.2 L396.8,311.2 L397.4,311.2 L398.1,311.2 L398.7,311.2 L399.3,311.3 L400.0,311.3 L400.6,311.3 L401.2,311.3 L401.9,311.3 L402.5,311.3 L403.1,311.3 L403.8,311.3 L404.4,311.3 L405.0,311.3 L405.7,311.3 L406.3,311.3 L406.9,311.3 L407.6,311.3 L408.2,311.4 L408.8,311.4 L409.5,311.4 L410.1,311.4 L410.7,311.4 L411.4,311.4 L412.0,311.4 L412.6,311.4 L413.3,311.4 L413.9,311.5 L414.5,311.5 L415.2,311.5 L415.8,311.5 L416.4,311.5 L417.1,311.5 L417.7,311.6 L418.3,311.6 L419.0,311.6 L419.6,311.6 L420.2,311.7 L420.9,311.7 L421.5,311.7 L422.1,311.7 L422.8,311.8 L423.4,311.8 L424.1,311.8 L424.7,311.9 L425.3,311.9 L426.0,311.9 L426.6,312.0 L427.2,312.0 L427.9,312.0 L428.5,312.1 L429.1,312.1 L429.8,312.2 L430.4,312.2 L431.0,312.3 L431.7,312.3 L432.3,312.4 L432.9,312.5 L433.6,312.5 L434.2,312.6 L434.8,312.7 L435.5,312.7 L436.1,312.8 L436.7,312.9 L437.4,313.0 L438.0,313.1 L438.6,313.2 L439.3,313.3 L439.9,313.4 L440.5,313.5 L441.2,313.6 L441.8,313.7 L442.4,313.8 L443.1,314.0 L443.7,314.1 L444.3,314.2 L445.0,314.4 L445.6,314.5 L446.2,314.7 L446.9,314.9 L447.5,315.1 L448.1,315.3 L448.8,315.5 L449.4,315.7 L450.0,315.9 L450.7,316.1 L451.3,316.4 L451.9,316.6 L452.6,316.9 L453.2,317.2 L453.9,317.5 L454.5,317.8 L455.1,318.1 L455.8,318.4 L456.4,318.8 L457.0,319.2 L457.7,319.6 L458.3,320.0 L458.9,320.4 L459.6,320.8 L460.2,321.3 L460.8,321.8 L461.5,322.3 L462.1,322.9 L462.7,323.5 L463.4,324.1 L464.0,324.7 L464.6,325.3 L465.3,326.0 L465.9,326.8 L466.5,327.5 L467.2,328.3 L467.8,329.2 L468.4,330.0 L469.1,331.0 L469.7,331.9 L470.3,332.9 L471.0,334.0 L471.6,335.1 L472.2,336.3 L472.9,337.5 L473.5,338.8 L474.1,340.1 L474.8,341.6 L475.4,343.0 L476.0,344.6 L476.7,346.2 L477.3,347.9 L477.9,349.7 L478.6,351.6 L479.2,353.6 L479.8,355.7 L480.5,357.8 L481.1,360.1 L481.7,362.5 L482.4,365.0 L483.0,367.6 L483.6,370.4 L484.3,373.3 L484.9,376.3 L485.6,376.3 L486.2,376.3 L486.8,376.3 L487.5,376.3 L488.1,376.3 L488.7,376.3 L489.4,376.3 L490.0,376.3 L490.6,376.3 L491.3,376.3 L491.9,376.3 L492.5,376.3 L493.2,376.3 L493.8,376.3 L494.4,376.3 L495.1,376.3 L495.7,376.3 L496.3,376.3 L497.0,376.3 L497.6,376.3 L498.2,376.3 L498.9,376.3 L499.5,376.3 L500.1,376.3 L500.8,376.3 L501.4,376.3 L502.0,376.3 L502.7,376.3 L503.3,376.3 L503.9,376.3 L504.6,376.3 L505.2,376.3 L505.8,376.3 L506.5,376.3 L507.1,376.3 L507.7,376.3 L508.4,376.3 L509.0,376.3 L509.6,376.3 L510.3,376.3 L510.9,376.3 L511.5,376.3 L512.2,376.3 L512.8,376.3 L513.4,376.3 L514.1,376.3 L514.7,376.3 L515.3,376.3 L516.0,376.3 L516.6,376.3 L517.3,376.3" fill="none" stroke="#00f0f0" stroke-width="1.0" stroke-linejoin="round"/>
<circle cx="327.05" cy="311.15" r="0.95" fill="#00f0f0"/>
<circle cx="339.73" cy="311.15" r="0.95" fill="#00f0f0"/>
<circle cx="352.41" cy="311.15" r="0.95" fill="#00f0f0"/>
<circle cx="365.09" cy="311.16" r="0.95" fill="#00f0f0"/>
<circle cx="377.77" cy="311.17" r="0.95" fill="#00f0f0"/>
<circle cx="390.45" cy="311.20" r="0.95" fill="#00f0f0"/>
<circle cx="403.13" cy="311.29" r="0.95" fill="#00f0f0"/>
<circle cx="415.81" cy="311.51" r="0.95" fill="#00f0f0"/>
<circle cx="428.49" cy="312.09" r="0.95" fill="#00f0f0"/>
<circle cx="441.17" cy="313.59" r="0.95" fill="#00f0f0"/>
<circle cx="453.85" cy="317.47" r="0.95" fill="#00f0f0"/>
<circle cx="466.53" cy="327.52" r="0.95" fill="#00f0f0"/>
<circle cx="479.21" cy="353.59" r="0.95" fill="#00f0f0"/>
<circle cx="491.89" cy="376.30" r="0.95" fill="#00f0f0"/>
<circle cx="504.57" cy="376.30" r="0.95" fill="#00f0f0"/>
<rect x="319.6" y="355.6" width="77.4" height="24.6" rx="1" fill="#fff" fill-opacity="0.85" stroke="#d0d0d0" stroke-width="0.4"/>
<path d="M321.2,359.00H329.2" stroke="#1a1aff" stroke-width="0.9"/>
<circle cx="325.2" cy="359.00" r="1.12" fill="#1a1aff"/>
<text x="332.2" y="360.50" font-size="4.0" fill="#222">G = 1000 [W/m²] and T = 65 °C</text>
<path d="M321.2,364.90H329.2" stroke="#1f8f2f" stroke-width="0.9"/>
<circle cx="325.2" cy="364.90" r="0.77" fill="#1f8f2f"/>
<text x="332.2" y="366.40" font-size="4.0" fill="#222">G = 900 [W/m²] and T = 55 °C</text>
<path d="M321.2,370.80H329.2" stroke="#ff1a1a" stroke-width="0.9"/>
<circle cx="325.2" cy="370.80" r="1.08" fill="#ff1a1a"/>
<text x="332.2" y="372.30" font-size="4.0" fill="#222">G = 700 [W/m²] and T = 45 °C</text>
<path d="M321.2,376.70H329.2" stroke="#00f0f0" stroke-width="0.9"/>
<circle cx="325.2" cy="376.70" r="0.85" fill="#00f0f0"/>
<text x="332.2" y="378.20" font-size="4.0" fill="#222">G = 500 [W/m²] and T = 35 °C</text>
</g>
<g font-family="'Liberation Serif', serif" font-weight="bold" fill="#111" font-size="11.4" text-anchor="middle">
<text x="410.2" y="421.2">(d) I-V Characteristics of a PV Module Under</text>
<text x="410.0" y="434.5">Different Irradiance and Temperature Conditions</text>
</g>
</svg>
</body></html>
